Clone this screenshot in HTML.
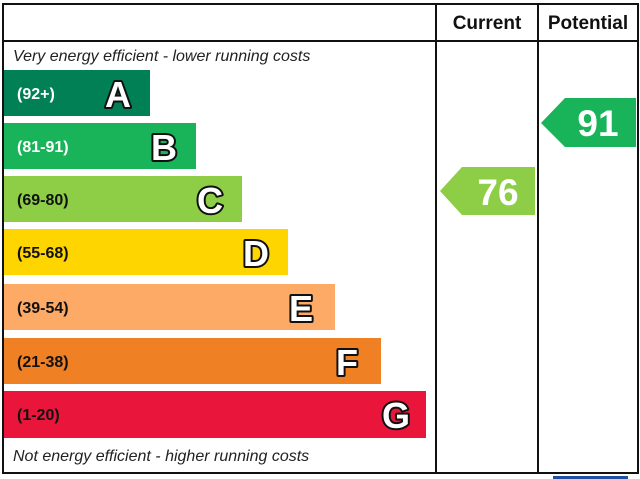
<!DOCTYPE html>
<html><head><style>
html,body{margin:0;padding:0;background:#fff;}
svg{display:block;}
text{font-family:"Liberation Sans",Arial,sans-serif;}
</style></head><body>
<svg width="640" height="479" viewBox="0 0 640 479" xmlns="http://www.w3.org/2000/svg">
<rect x="0" y="0" width="640" height="479" fill="#fff"/>
<rect x="4" y="70" width="146" height="46" fill="#008054"/>
<rect x="4" y="123" width="192" height="46" fill="#19b459"/>
<rect x="4" y="176" width="238" height="46" fill="#8dce46"/>
<rect x="4" y="229" width="284" height="46" fill="#ffd500"/>
<rect x="4" y="284" width="331" height="46" fill="#fcaa65"/>
<rect x="4" y="338" width="377" height="46" fill="#ef8023"/>
<rect x="4" y="391" width="422" height="47" fill="#e9153b"/>
<g font-weight="bold" font-size="16">
<text x="17" y="99" fill="#fff">(92+)</text>
<text x="17" y="152" fill="#fff">(81-91)</text>
<text x="17" y="205" fill="#111">(69-80)</text>
<text x="17" y="258" fill="#111">(55-68)</text>
<text x="17" y="313" fill="#111">(39-54)</text>
<text x="17" y="367" fill="#111">(21-38)</text>
<text x="17" y="420" fill="#111">(1-20)</text>
</g>
<g font-weight="bold" font-size="36" fill="#fff" stroke="#111" stroke-width="4" stroke-linejoin="round" paint-order="stroke" text-anchor="middle">
<text x="118" y="107">A</text>
<text x="164" y="160">B</text>
<text x="210" y="213">C</text>
<text x="256" y="266">D</text>
<text x="301" y="321">E</text>
<text x="347" y="375">F</text>
<text x="396" y="428">G</text>
</g>
<text x="13" y="61" font-size="16" font-style="italic" fill="#222">Very energy efficient - lower running costs</text>
<text x="13" y="461" font-size="16" font-style="italic" fill="#222">Not energy efficient - higher running costs</text>
<polygon points="440,191 462,167 535,167 535,215 462,215" fill="#8dce46"/>
<text x="498" y="205" font-size="37" font-weight="bold" fill="#fff" text-anchor="middle">76</text>
<polygon points="541,123 565,98 636,98 636,147 565,147" fill="#19b459"/>
<text x="598" y="136" font-size="37" font-weight="bold" fill="#fff" text-anchor="middle">91</text>
<text x="487" y="29" font-size="19" font-weight="bold" fill="#111" text-anchor="middle">Current</text>
<text x="588" y="29" font-size="19" font-weight="bold" fill="#111" text-anchor="middle">Potential</text>
<g stroke="#111" stroke-width="2" fill="none">
<rect x="3" y="4" width="635" height="469"/>
<line x1="3" y1="41" x2="638" y2="41"/>
<line x1="436" y1="4" x2="436" y2="473"/>
<line x1="538" y1="4" x2="538" y2="473"/>
</g>
<rect x="553" y="476" width="75" height="3" fill="#1f4fa0"/>
</svg>
</body></html>
